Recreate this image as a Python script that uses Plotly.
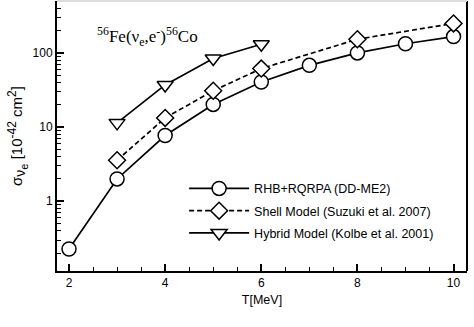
import plotly.graph_objects as go

t_rhb = [2, 3, 4, 5, 6, 7, 8, 9, 10]
sigma_rhb = [0.227, 2.0, 7.7, 20.2, 40.5, 68, 100, 133, 166]

t_shell = [3, 4, 5, 6, 8, 10]
sigma_shell = [3.57, 13.3, 30.9, 61.5, 153, 250]

t_hybrid = [3, 4, 5, 6]
sigma_hybrid = [11.4, 37, 84, 131]

x_ticks = [2, 4, 6, 8, 10]
x_minor = [2.5, 3, 3.5, 4.5, 5, 5.5, 6.5, 7, 7.5, 8.5, 9, 9.5]
y_ticks = [1, 10, 100]
y_minor = [0.2, 0.3, 0.4, 0.5, 0.6, 0.7, 0.8, 0.9,
           2, 3, 4, 5, 6, 7, 8, 9,
           20, 30, 40, 50, 60, 70, 80, 90,
           200, 300, 400]

font = "Liberation Sans, Arial, sans-serif"

fig = go.Figure()
fig.add_trace(go.Scatter(
    x=t_rhb, y=sigma_rhb, mode="lines+markers", name="RHB+RQRPA (DD-ME2)",
    legendgroup="a",
    line=dict(color="black", width=1.7),
    marker=dict(symbol="circle", size=14, color="white", line=dict(color="black", width=1.5)),
))
fig.add_trace(go.Scatter(
    x=t_shell, y=sigma_shell, mode="lines+markers", name="Shell Model (Suzuki et al. 2007)",
    legendgroup="b",
    line=dict(color="black", width=1.7, dash="5px,3px"),
    marker=dict(symbol="diamond", size=13, color="white", line=dict(color="black", width=1.5)),
))
fig.add_trace(go.Scatter(
    x=t_hybrid, y=sigma_hybrid, mode="lines+markers", name="Hybrid Model (Kolbe et al. 2001)",
    legendgroup="c",
    line=dict(color="black", width=1.7),
    marker=dict(symbol="triangle-down", size=14, color="white", line=dict(color="black", width=1.5)),
))

fig.update_layout(
    width=474, height=327,
    margin=dict(l=57, r=7, t=1, b=56),
    plot_bgcolor="white", paper_bgcolor="white",
    font=dict(family=font, size=12, color="black"),
    showlegend=True,
    legend=dict(
        x=0.31, y=0.36, xanchor="left", yanchor="top",
        bgcolor="rgba(0,0,0,0)", borderwidth=0,
        font=dict(size=12.5, family=font),
        tracegroupgap=3, itemwidth=60,
    ),
    xaxis=dict(
        range=[1.75, 10.28], showgrid=False, zeroline=False,
        showline=True, linecolor="black", linewidth=2,
        ticks="inside", ticklen=7, tickwidth=1.5, tickcolor="black",
        tickvals=x_ticks, ticktext=[str(v) for v in x_ticks],
        minor=dict(tickvals=x_minor, ticks="inside", ticklen=4, tickwidth=1, tickcolor="black"),
        title=dict(text="T[MeV]", font=dict(size=12.5), standoff=6),
        tickfont=dict(size=12),
    ),
    yaxis=dict(
        type="log", range=[-0.94, 2.70], showgrid=False, zeroline=False,
        showline=True, linecolor="black", linewidth=2, mirror=False,
        ticks="inside", ticklen=7, tickwidth=1.5, tickcolor="black",
        tickvals=y_ticks, ticktext=[str(v) for v in y_ticks],
        minor=dict(tickvals=y_minor, ticks="inside", ticklen=4, tickwidth=1, tickcolor="black"),
        title=dict(
            text=("σ<sub><span style='font-size:14px'>ν</span><sub><span style='font-size:11px'>e</span></sub></sub>"
                  " [10<sup><span style='font-size:12px'>-42</span></sup> cm<sup><span style='font-size:12px'>2</span></sup>]"),
            font=dict(size=15), standoff=6),
        tickfont=dict(size=12),
    ),
    shapes=[
        dict(type="line", xref="paper", yref="paper", x0=1, x1=1, y0=0, y1=1,
             line=dict(color="black", width=2)),
        dict(type="line", xref="paper", yref="paper", x0=0, x1=1, y0=1, y1=1,
             line=dict(color="#dddddd", width=2)),
    ],
    annotations=[
        dict(text="<sup>56</sup>Fe(ν<sub>e</sub>,e<sup>-</sup>)<sup>56</sup>Co",
             x=0.092, y=0.87, xref="paper", yref="paper", xanchor="left", yanchor="middle",
             showarrow=False, font=dict(family="Liberation Serif, Times New Roman, serif", size=17)),
    ],
)

fig.write_html("out.html")
